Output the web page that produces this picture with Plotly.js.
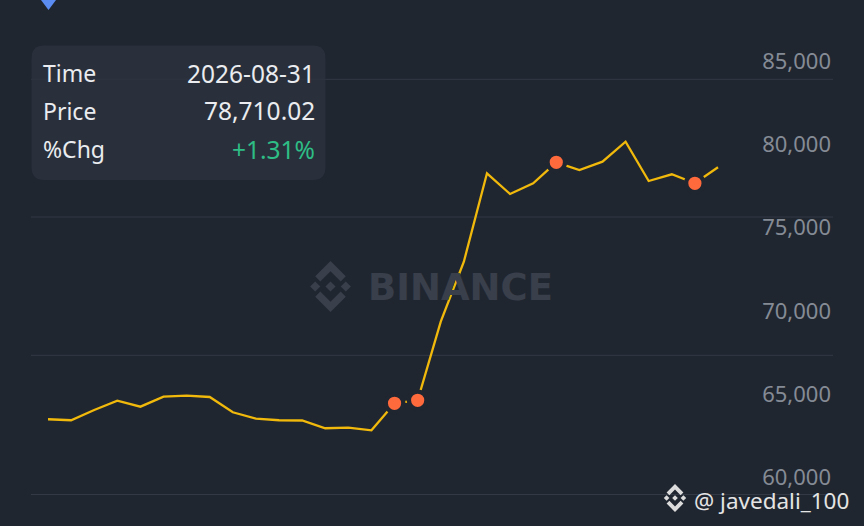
<!DOCTYPE html>
<html>
<head>
<meta charset="utf-8">
<script src="https://cdn.plot.ly/plotly-3.0.1.min.js"></script>
<style>
html,body{margin:0;padding:0;background:#202630;}
#chart{width:864px;height:526px;}
</style>
</head>
<body>
<div id="chart"></div>
<script>
// ---- data ----
const dates = ['2026-08-02','2026-08-03','2026-08-04','2026-08-05','2026-08-06','2026-08-07',
  '2026-08-08','2026-08-09','2026-08-10','2026-08-11','2026-08-12','2026-08-13','2026-08-14',
  '2026-08-15','2026-08-16','2026-08-17','2026-08-18','2026-08-19','2026-08-20','2026-08-21',
  '2026-08-22','2026-08-23','2026-08-24','2026-08-25','2026-08-26','2026-08-27','2026-08-28',
  '2026-08-29','2026-08-30','2026-08-31'];
const prices = [63495,63435,64053,64611,64251,64852,64911,64833,63915,63531,63435,63420,
  62955,62991,62835,64455,64635,69353,72954,78260,77017,77660,78920,78458,78956,80156,
  77798,78200,77660,78620];
const markerDates = ['2026-08-17','2026-08-18','2026-08-24','2026-08-30'];
const yTicks = [60000,65000,70000,75000,80000,85000];
const tooltipLabels = ['Time','Price','%Chg'];
const tooltipValues = ['2026-08-31','78,710.02','+1.31%'];
const watermarkText = 'BINANCE';
const userTag = '@ javedali_100';

// ---- helpers (pixel -> paper) ----
const W = 864, H = 526;
const px = x => x / W;
const py = y => 1 - y / H;
const BG = '#202630';

function logoPaths(cx, cy, r) {
  const P = (pts) => 'M ' + pts.map(p => px(cx + p[0]*r) + ',' + py(cy - p[1]*r)).join(' L ') + ' Z';
  return [
    P([[0,-0.2],[0.2,0],[0,0.2],[-0.2,0]]),
    P([[-0.8,0],[-0.6,0.2],[-0.4,0],[-0.6,-0.2]]),
    P([[0.8,0],[0.6,0.2],[0.4,0],[0.6,-0.2]]),
    P([[0,1],[0.6,0.4],[0.4,0.2],[0,0.6],[-0.4,0.2],[-0.6,0.4]]),
    P([[0,-1],[0.6,-0.4],[0.4,-0.2],[0,-0.6],[-0.4,-0.2],[-0.6,-0.4]])
  ];
}

function roundRect(x0, y0, x1, y1, r) {
  const p = (x, y) => px(x) + ',' + py(y);
  return 'M ' + p(x0 + r, y0) + ' L ' + p(x1 - r, y0) + ' Q ' + p(x1, y0) + ' ' + p(x1, y0 + r) +
    ' L ' + p(x1, y1 - r) + ' Q ' + p(x1, y1) + ' ' + p(x1 - r, y1) +
    ' L ' + p(x0 + r, y1) + ' Q ' + p(x0, y1) + ' ' + p(x0, y1 - r) +
    ' L ' + p(x0, y0 + r) + ' Q ' + p(x0, y0) + ' ' + p(x0 + r, y0) + ' Z';
}

const shapes = [];
[79.3, 217, 355.3, 494.5].forEach(gy => {
  shapes.push({type:'line', xref:'paper', yref:'paper', x0:px(31), x1:px(833), y0:py(gy), y1:py(gy),
    line:{color:'#333945', width:1}, layer:'below'});
});
logoPaths(330.5, 286.5, 25.5).forEach(d => shapes.push({type:'path', xref:'paper', yref:'paper', path:d,
  fillcolor:'#393f4b', line:{width:0}, layer:'below'}));
shapes.push({type:'path', xref:'paper', yref:'paper', path:roundRect(31.5, 45.5, 325.5, 180, 13),
  fillcolor:'rgba(44,51,62,0.85)', line:{width:0}, layer:'above'});
// blue triangle marker at top
shapes.push({type:'path', xref:'paper', yref:'paper',
  path:'M ' + px(41) + ',' + py(0) + ' L ' + px(56) + ',' + py(0) + ' L ' + px(48.5) + ',' + py(10) + ' Z',
  fillcolor:'#5b8cf2', line:{width:0}, layer:'above'});
logoPaths(675, 498, 14).forEach(d => shapes.push({type:'path', xref:'paper', yref:'paper', path:d,
  fillcolor:'#dcdcdc', line:{width:0}, layer:'above'}));

const FONT = 'Noto Sans, Open Sans, sans-serif';
const annotations = [];
const rowY = [73, 111, 149];
tooltipLabels.forEach((t, i) => annotations.push({xref:'paper', yref:'paper', x:px(41), y:py(rowY[i]),
  xanchor:'left', yanchor:'middle', text:t, showarrow:false, font:{family:FONT, size:23, color:'#eaecef'}}));
tooltipValues.forEach((t, i) => annotations.push({xref:'paper', yref:'paper', x:px(317), y:py(rowY[i]),
  xanchor:'right', yanchor:'middle', text:t, showarrow:false,
  font:{family:FONT, size:24.5, color: i === 2 ? '#2ebd85' : '#eaecef'}}));
annotations.push({xref:'paper', yref:'paper', x:px(366), y:py(287), xanchor:'left', yanchor:'middle',
  text:'<b>' + watermarkText + '</b>', showarrow:false, font:{family:'DejaVu Sans, Lato, sans-serif', size:37, color:'#393f4b'}});
annotations.push({xref:'paper', yref:'paper', x:px(692), y:py(500), xanchor:'left', yanchor:'middle',
  text:userTag, showarrow:false, font:{family:FONT, size:22.5, color:'#e4e4e4'}});

const traces = [
  {x:dates, y:prices, type:'scatter', mode:'lines', line:{color:'#f0b90b', width:2.3},
   hoverinfo:'skip'},
  {x:markerDates, y:markerDates.map(d => prices[dates.indexOf(d)]), type:'scatter', mode:'markers',
   marker:{color:'#ff6a3d', size:17.5, line:{color:BG, width:4.3}}, hoverinfo:'skip'}
];

const layout = {
  width:W, height:H, margin:{l:0, r:0, t:0, b:0},
  paper_bgcolor:BG, plot_bgcolor:BG, showlegend:false,
  xaxis:{type:'date', range:['2026-07-30 22:08','2026-09-06 07:40'], visible:false, fixedrange:true},
  yaxis:{range:[57089, 88661], side:'right', ticklabelposition:'inside', tickvals:yTicks,
    tickformat:',d', showgrid:false, zeroline:false, showline:false, ticks:'',
    ticklabelstandoff:30, tickfont:{family:FONT, size:22, color:'#858b95'}},
  shapes:shapes, annotations:annotations, font:{family:FONT}
};

Plotly.newPlot('chart', traces, layout, {displayModeBar:false, staticPlot:true});
</script>
</body>
</html>
